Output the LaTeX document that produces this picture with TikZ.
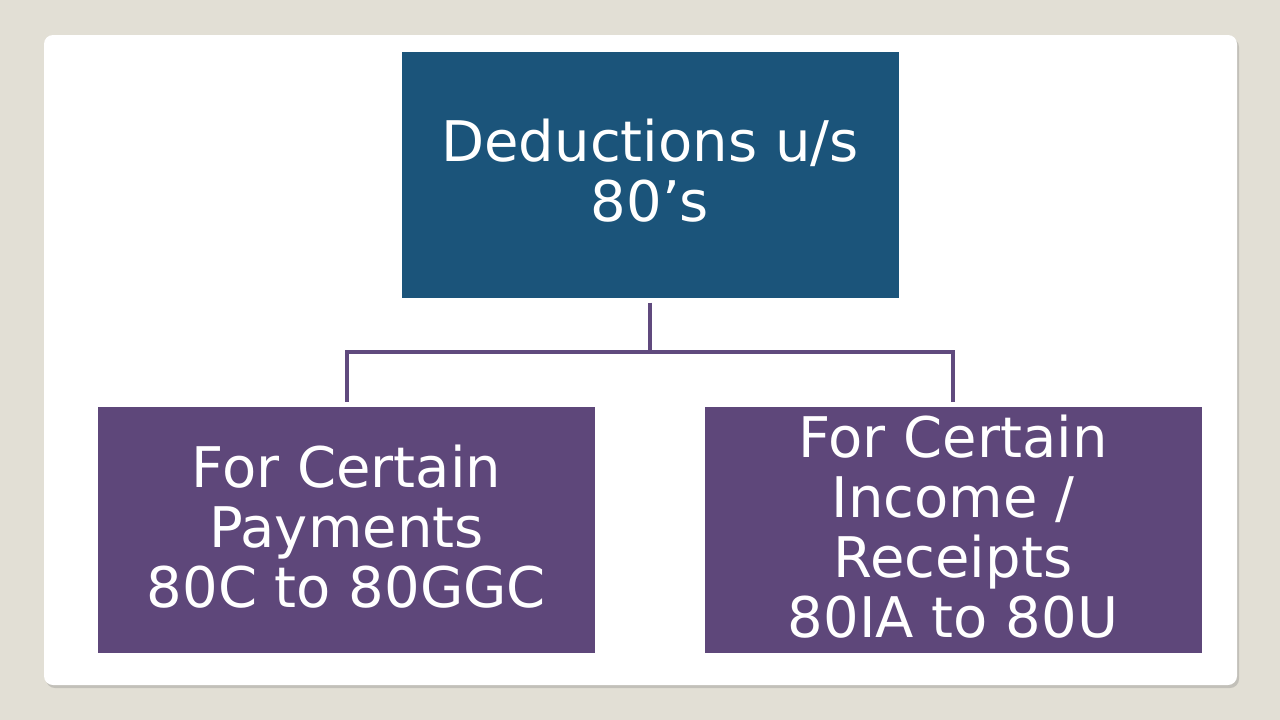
\documentclass[tikz,border=0pt]{standalone}
\usepackage{fontspec}
\setmainfont{DejaVu Sans}
\usetikzlibrary{shadows}
\definecolor{bgc}{RGB}{226,223,213}
\definecolor{topc}{RGB}{27,84,122}
\definecolor{purp}{RGB}{94,71,122}
\definecolor{linec}{RGB}{96,74,126}
\tikzset{
  boxstyle/.style={draw=none, minimum width=497pt, minimum height=246pt, inner sep=0pt,
    align=center, text=white, font=\fontsize{56}{60}\selectfont},
  conn/.style={draw=linec, line width=4pt},
  slide/.style={fill=white, rounded corners=9pt,
    drop shadow={shadow xshift=2pt, shadow yshift=-3pt, opacity=0.25, fill=black!60}}
}
\newcommand{\dd}{\rule[-8pt]{0pt}{0pt}}
\begin{document}
\begin{tikzpicture}[x=1pt,y=-1pt]
\useasboundingbox (0,0) rectangle (1280,720);
\fill[bgc] (0,0) rectangle (1280,720);
\path[slide] (44,35) rectangle (1237,685);
\node[boxstyle, fill=topc] (top) at (650,174.5) {Deductions u/s\\80’s\dd};
\node[boxstyle, fill=purp] (left) at (346.5,530) {For Certain\\Payments\\80C to 80GGC\dd};
\node[boxstyle, fill=purp] (right) at (953,530) {For Certain\\Income /\\Receipts\\80IA to 80U\dd};
\coordinate (j) at (650,352);
\draw[conn] ([yshift=-5pt]top.south) -- (j);
\draw[conn] ([yshift=5pt]left.north) |- (j) -| ([yshift=5pt]right.north);
\end{tikzpicture}
\end{document}
